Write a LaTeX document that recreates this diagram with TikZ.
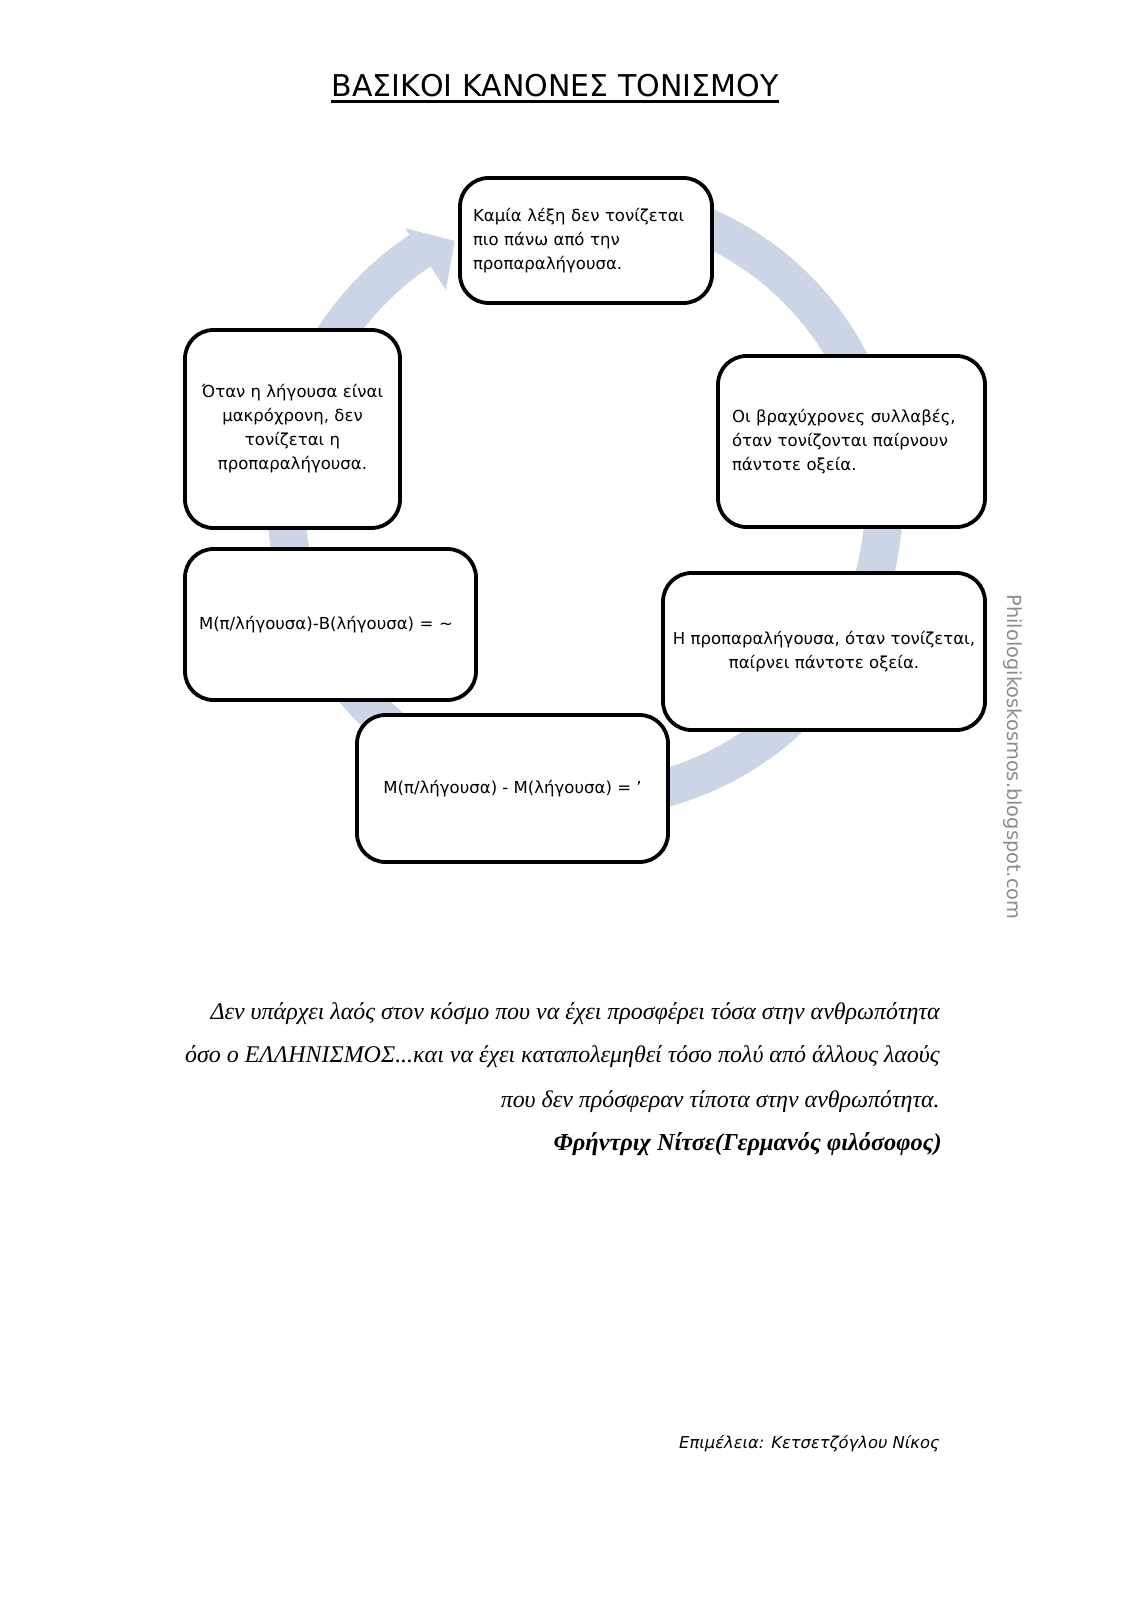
\documentclass[tikz,border=0pt]{standalone}
\usepackage{fontspec}
\setmainfont{DejaVu Sans}
\newfontfamily\quotefont{Liberation Serif}
\definecolor{ringcol}{RGB}{204,213,230}
\begin{document}
\begin{tikzpicture}[x=0.5262pt,y=-0.5262pt,
  box/.style={draw=black, line width=2pt, fill=white, rounded corners=15pt,
    inner sep=0pt, font=\fontsize{8.7}{12.6}\selectfont},
  quote/.style={anchor=base east, inner sep=0pt, font=\quotefont\itshape\fontsize{12.6}{15}\selectfont}]
\useasboundingbox (0,0) rectangle (1131,1600);
\fill[white] (0,0) rectangle (1131,1600);
% title
\node[anchor=base, inner sep=0pt, font=\fontsize{15.8}{18}\selectfont] (title) at (555,97) {ΒΑΣΙΚΟΙ ΚΑΝΟΝΕΣ ΤΟΝΙΣΜΟΥ};
\draw[line width=1.4pt] ([yshift=-2.5pt]title.base west) -- ([yshift=-2.5pt]title.base east);
% ring arrow
\fill[ringcol] plot[domain=105:-236.5, samples=150] ({585+318*cos(\x)},{500-318*sin(\x)})
  -- ({585+326*cos(-236.5)},{500-326*sin(-236.5)})
  -- ({585+290*cos(-243.3)},{500-290*sin(-243.3)})
  -- ({585+252*cos(-236.5)},{500-252*sin(-236.5)})
  -- plot[domain=-236.5:105, samples=150] ({585+280*cos(\x)},{500-280*sin(\x)}) -- cycle;
% boxes
\node[box, minimum width=252*0.5262pt, minimum height=125*0.5262pt, text width=226*0.5262pt, align=left] (b1) at (586,240.5)
  {Καμία λέξη δεν τονίζεται\\πιο πάνω από την\\προπαραλήγουσα.};
\node[box, minimum width=267*0.5262pt, minimum height=171*0.5262pt, text width=239*0.5262pt, align=left] (b3) at (851.5,441.5)
  {Οι βραχύχρονες συλλαβές,\\όταν τονίζονται παίρνουν\\πάντοτε οξεία.};
\node[box, minimum width=322*0.5262pt, minimum height=157*0.5262pt, align=center] (b4) at (824,651.5)
  {Η προπαραλήγουσα, όταν τονίζεται,\\παίρνει πάντοτε οξεία.};
\node[box, minimum width=215*0.5262pt, minimum height=198*0.5262pt, align=center] (b2) at (292.5,429)
  {Όταν η λήγουσα είναι\\μακρόχρονη, δεν\\τονίζεται η\\προπαραλήγουσα.};
\node[box, minimum width=291*0.5262pt, minimum height=151*0.5262pt, text width=263*0.5262pt, align=left] (b6) at (330.5,624.5)
  {Μ(π/λήγουσα)-Β(λήγουσα) = \textasciitilde};
\node[box, minimum width=311*0.5262pt, minimum height=147*0.5262pt, align=center] (b5) at (512.5,788.5)
  {Μ(π/λήγουσα) - Μ(λήγουσα) = '};
% watermark
\node[rotate=-90, inner sep=0pt, text=black!45, font=\fontsize{10.2}{12}\selectfont] (wm) at (1013,757) {Philologikoskosmos.blogspot.com};
% quote
\node[quote] (q1) at (940,1019) {Δεν υπάρχει λαός στον κόσμο που να έχει προσφέρει τόσα στην ανθρωπότητα};
\node[quote] (q2) at (940,1062) {όσο ο ΕΛΛΗΝΙΣΜΟΣ...και να έχει καταπολεμηθεί τόσο πολύ από άλλους λαούς};
\node[quote] (q3) at (940,1107) {που δεν πρόσφεραν τίποτα στην ανθρωπότητα.};
\node[quote, font=\quotefont\bfseries\itshape\fontsize{12.8}{15}\selectfont] (q4) at (942,1150) {Φρήντριχ Νίτσε(Γερμανός φιλόσοφος)};
% footer
\node[anchor=base east, inner sep=0pt, font=\itshape\fontsize{8.6}{10}\selectfont] (foot) at (940,1448) {Επιμέλεια: Κετσετζόγλου Νίκος};
\end{tikzpicture}
\end{document}
